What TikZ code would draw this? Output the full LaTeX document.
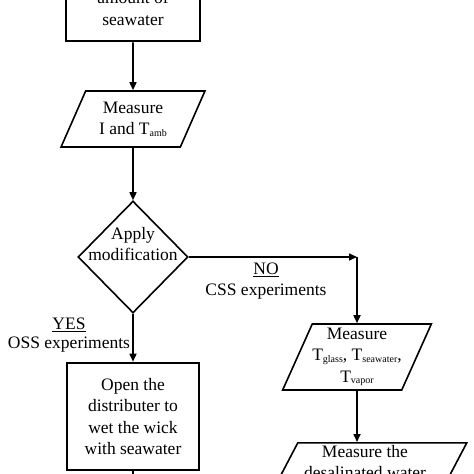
\documentclass[tikz,border=0pt]{standalone}
\usepackage{fontspec}
\setmainfont{Liberation Serif}
\usetikzlibrary{arrows.meta, shapes.geometric}
\newcommand{\subtxt}[1]{\raisebox{-1.5pt}{\fontsize{10}{10}\selectfont #1}}

\begin{document}
\begin{tikzpicture}[x=1pt, y=-1pt, line width=1.6pt,
	every node/.style={font=\fontsize{17.5}{21.5}\selectfont, align=center},
	procbox/.style={draw, rectangle, line width=2.6pt, minimum width=134pt, inner sep=0pt},
	iobox/.style={draw, trapezium, trapezium left angle=63, trapezium right angle=117,
		trapezium stretches=true, inner sep=0pt},
	decision/.style={draw, diamond, minimum width=110pt, minimum height=112pt, inner sep=0pt},
	flow/.style={-{Triangle[length=8pt, width=7pt]}}]
				\useasboundingbox (0,0) rectangle (474,474);
				\fill[white] (0,0) rectangle (474,474);
				\clip (0,0) rectangle (474,474);

				% main column
				\node[procbox, minimum height=65pt] (fill) at (133,8.5) {amount of\\seawater};
				\node[iobox, minimum width=144pt, minimum height=56pt] (meas1) at (133,119) {Measure\\I and T\subtxt{amb}};
				\node[decision] (apply) at (133,257) {};
				\node (applytxt) at (133,244) {Apply\\modification};
				\node[procbox, minimum height=107pt, minimum width=132pt] (open) at (133,416.5) {Open the\\distributer to\\wet the wick\\with seawater};

				% right column
				\coordinate (nocorner) at (357,257);
				\node[iobox, minimum width=145pt, minimum height=66pt] (meas2) at (357,357) {Measure\\T\subtxt{glass}, T\subtxt{seawater},\\T\subtxt{vapor}};
				\node[iobox, minimum width=204pt, minimum height=66pt, anchor=north] (meas3) at (365,442) {Measure the\\desalinated water\\\strut};
				\coordinate (exitpt) at (133,490);

				% labels
				\node (nolbl) at (266,270) {\underline{NO}};
				\node (csslbl) at (266,292) {CSS experiments};
				\node (yeslbl) at (69,325) {\underline{YES}};
				\node (osslbl) at (69,345) {OSS experiments};

				\draw[flow] (fill) -- (meas1);
				\draw[flow] (meas1) -- (apply);
				\draw[flow] (apply.east) -- (nocorner);
				\draw[flow] (nocorner) -- (meas2.north);
				\draw[flow] (apply.south) -- (open.north);
				\draw[flow] (meas2.south) -- (meas2.south |- meas3.north);
				\draw (open.south) -- (exitpt);
			\end{tikzpicture}
\end{document}
